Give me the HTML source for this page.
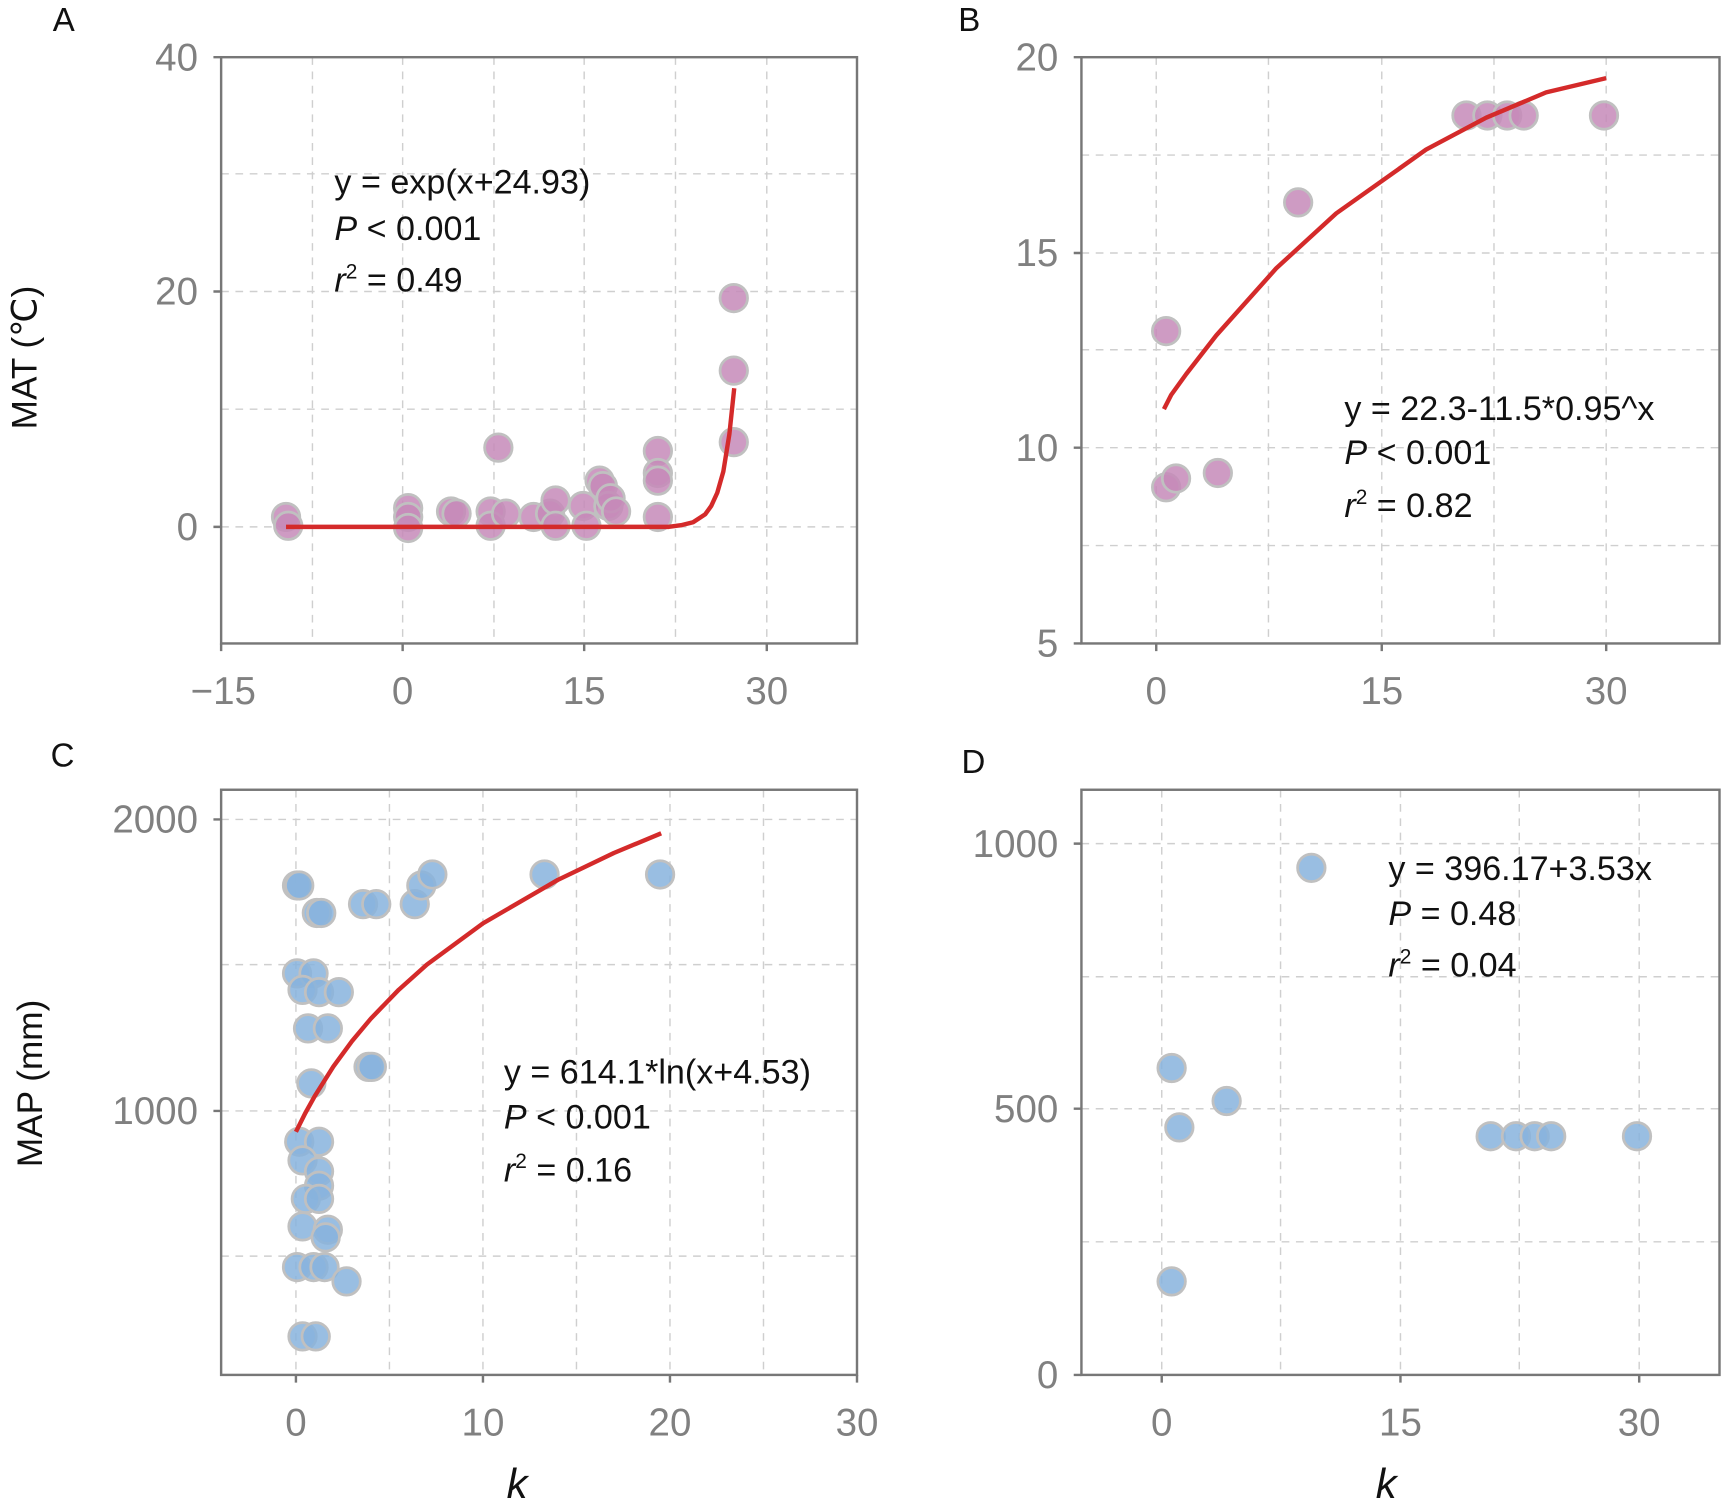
<!DOCTYPE html>
<html><head><meta charset="utf-8"><style>
html,body{margin:0;padding:0;background:#fff}
svg{display:block}
text{font-family:"Liberation Sans",Arial,sans-serif}
.t{fill:#808080;font-size:35px}
.a{fill:#111;font-size:31px}
.g{stroke:#cfcfcf;stroke-width:1.3;stroke-dasharray:7 6;fill:none}
.ax{stroke:#777;stroke-width:2.2;fill:none}
.pp circle{fill:#c58ab9;fill-opacity:.85;stroke:#c0c0c0;stroke-width:2.5}
.pb circle{fill:#87b3dd;fill-opacity:.85;stroke:#c0c0c0;stroke-width:2.5}
.fit{stroke:#d42a2a;stroke-width:4;fill:none;stroke-linejoin:round}
</style></head><body>
<svg width="1725" height="1508" viewBox="0 0 1568 1371" preserveAspectRatio="none">
<!-- Panel A -->
<text x="48" y="28" font-size="30" fill="#111">A</text>
<g class="g"><path d="M284 52V585M366 52V585M449 52V585M531 52V585M614 52V585M697 52V585M201 158H779M201 265H779M201 372H779M201 479H779"/></g>
<rect class="ax" x="201" y="52" width="578" height="533"/>
<path class="ax" d="M194 52H201M194 265H201M194 479H201M201 585V592M366 585V592M531 585V592M697 585V592"/>
<g class="t" text-anchor="end"><text x="180" y="64">40</text><text x="180" y="277">20</text><text x="180" y="491">0</text></g>
<g class="t" text-anchor="middle"><text x="203" y="640">−15</text><text x="366" y="640">0</text><text x="531" y="640">15</text><text x="697" y="640">30</text></g>
<text transform="translate(33,325) rotate(-90)" text-anchor="middle" font-size="32" fill="#111">MAT (℃)</text>
<g class="pp">
<circle cx="260" cy="470" r="12.5"/><circle cx="262" cy="478" r="12.5"/><circle cx="371" cy="462" r="12.5"/><circle cx="371" cy="470" r="12.5"/><circle cx="371" cy="480" r="12.5"/><circle cx="410" cy="465" r="12.5"/><circle cx="415" cy="467" r="12.5"/><circle cx="446" cy="465" r="12.5"/><circle cx="446" cy="478" r="12.5"/><circle cx="453" cy="407" r="12.5"/><circle cx="460" cy="467" r="12.5"/><circle cx="485" cy="470" r="12.5"/><circle cx="500" cy="467" r="12.5"/><circle cx="505" cy="455" r="12.5"/><circle cx="505" cy="478" r="12.5"/><circle cx="530" cy="460" r="12.5"/><circle cx="533" cy="478" r="12.5"/><circle cx="545" cy="437" r="12.5"/><circle cx="548" cy="442" r="12.5"/><circle cx="553" cy="460" r="12.5"/><circle cx="555" cy="453" r="12.5"/><circle cx="560" cy="465" r="12.5"/><circle cx="598" cy="410" r="12.5"/><circle cx="598" cy="430" r="12.5"/><circle cx="598" cy="437" r="12.5"/><circle cx="598" cy="470" r="12.5"/><circle cx="667" cy="271" r="12.5"/><circle cx="667" cy="337" r="12.5"/><circle cx="667" cy="402" r="12.5"/>
</g>
<path class="fit" d="M260 479L608 479L619 477.5L630 474.8L641 467.6L646.5 460L652 448L657.5 428.7L663 394.7L665 375.7L667.4 353"/>
<g class="a"><text x="304" y="176">y = exp(x+24.93)</text><text x="304" y="218"><tspan font-style="italic">P</tspan> &lt; 0.001</text><text x="304" y="265"><tspan font-style="italic">r</tspan><tspan font-size="19" dy="-12">2</tspan><tspan dy="12"> = 0.49</tspan></text></g>

<!-- Panel B -->
<text x="871" y="28" font-size="30" fill="#111">B</text>
<g class="g"><path d="M1051 52V585M1153 52V585M1256 52V585M1358 52V585M1460 52V585M983 141H1563M983 230H1563M983 318H1563M983 407H1563M983 496H1563"/></g>
<rect class="ax" x="983" y="52" width="580" height="533"/>
<path class="ax" d="M976 52H983M976 230H983M976 407H983M976 585H983M1051 585V592M1256 585V592M1460 585V592"/>
<g class="t" text-anchor="end"><text x="962" y="64">20</text><text x="962" y="242">15</text><text x="962" y="419">10</text><text x="962" y="597">5</text></g>
<g class="t" text-anchor="middle"><text x="1051" y="640">0</text><text x="1256" y="640">15</text><text x="1460" y="640">30</text></g>
<g class="pp">
<circle cx="1060" cy="301" r="12.5"/><circle cx="1060" cy="443" r="12.5"/><circle cx="1069" cy="435" r="12.5"/><circle cx="1107" cy="430" r="12.5"/><circle cx="1180" cy="184" r="12.5"/><circle cx="1333" cy="105" r="12.5"/><circle cx="1352" cy="105" r="12.5"/><circle cx="1370" cy="105" r="12.5"/><circle cx="1385" cy="105" r="12.5"/><circle cx="1458" cy="105" r="12.5"/>
</g>
<path class="fit" d="M1058 372L1064.6 359L1078.3 340L1105.5 305L1160 244L1214.6 194L1296.3 136L1350.9 107L1405.4 84L1460 71"/>
<g class="a"><text x="1222" y="382">y = 22.3-11.5*0.95^x</text><text x="1222" y="422"><tspan font-style="italic">P</tspan> &lt; 0.001</text><text x="1222" y="470"><tspan font-style="italic">r</tspan><tspan font-size="19" dy="-12">2</tspan><tspan dy="12"> = 0.82</tspan></text></g>

<!-- Panel C -->
<text x="46" y="697" font-size="30" fill="#111">C</text>
<g class="g"><path d="M269 718V1250M354 718V1250M439 718V1250M524 718V1250M609 718V1250M694 718V1250M201 745H779M201 877H779M201 1010H779M201 1142H779"/></g>
<rect class="ax" x="201" y="718" width="578" height="532"/>
<path class="ax" d="M194 745H201M194 1010H201M269 1250V1257M439 1250V1257M609 1250V1257M779 1250V1257"/>
<g class="t" text-anchor="end"><text x="180" y="757">2000</text><text x="180" y="1022">1000</text></g>
<g class="t" text-anchor="middle"><text x="269" y="1305">0</text><text x="439" y="1305">10</text><text x="609" y="1305">20</text><text x="779" y="1305">30</text></g>
<text transform="translate(38,985) rotate(-90)" text-anchor="middle" font-size="32" fill="#111">MAP (mm)</text>
<text x="470" y="1362" text-anchor="middle" font-size="38" font-style="italic" fill="#111">k</text>
<g class="pb">
<circle cx="270" cy="805" r="12.5"/><circle cx="272" cy="805" r="12.5"/><circle cx="288" cy="830" r="12.5"/><circle cx="292" cy="830" r="12.5"/><circle cx="270" cy="885" r="12.5"/><circle cx="285" cy="885" r="12.5"/><circle cx="275" cy="900" r="12.5"/><circle cx="290" cy="902" r="12.5"/><circle cx="308" cy="902" r="12.5"/><circle cx="280" cy="935" r="12.5"/><circle cx="298" cy="935" r="12.5"/><circle cx="283" cy="985" r="12.5"/><circle cx="335" cy="970" r="12.5"/><circle cx="338" cy="970" r="12.5"/><circle cx="272" cy="1038" r="12.5"/><circle cx="290" cy="1038" r="12.5"/><circle cx="275" cy="1055" r="12.5"/><circle cx="290" cy="1065" r="12.5"/><circle cx="290" cy="1078" r="12.5"/><circle cx="278" cy="1090" r="12.5"/><circle cx="290" cy="1090" r="12.5"/><circle cx="275" cy="1115" r="12.5"/><circle cx="298" cy="1118" r="12.5"/><circle cx="296" cy="1125" r="12.5"/><circle cx="270" cy="1152" r="12.5"/><circle cx="285" cy="1152" r="12.5"/><circle cx="295" cy="1152" r="12.5"/><circle cx="315" cy="1165" r="12.5"/><circle cx="275" cy="1215" r="12.5"/><circle cx="287" cy="1215" r="12.5"/><circle cx="330" cy="822" r="12.5"/><circle cx="342" cy="822" r="12.5"/><circle cx="377" cy="822" r="12.5"/><circle cx="383" cy="805" r="12.5"/><circle cx="393" cy="795" r="12.5"/><circle cx="495" cy="795" r="12.5"/><circle cx="600" cy="795" r="12.5"/>
</g>
<path class="fit" d="M269 1029L277.5 1012L286 996.7L303 969.7L320 946.5L337 926.2L362.5 899.8L388 877L439 839.5L507 800L558 775.5L601 757.6"/>
<g class="a"><text x="458" y="985">y = 614.1*ln(x+4.53)</text><text x="458" y="1026"><tspan font-style="italic">P</tspan> &lt; 0.001</text><text x="458" y="1074"><tspan font-style="italic">r</tspan><tspan font-size="19" dy="-12">2</tspan><tspan dy="12"> = 0.16</tspan></text></g>

<!-- Panel D -->
<text x="874" y="703" font-size="30" fill="#111">D</text>
<g class="g"><path d="M1056 718V1250M1164 718V1250M1273 718V1250M1381 718V1250M1490 718V1250M983 767H1563M983 888H1563M983 1008H1563M983 1129H1563"/></g>
<rect class="ax" x="983" y="718" width="580" height="532"/>
<path class="ax" d="M976 767H983M976 1008H983M976 1250H983M1056 1250V1257M1273 1250V1257M1490 1250V1257"/>
<g class="t" text-anchor="end"><text x="962" y="779">1000</text><text x="962" y="1020">500</text><text x="962" y="1262">0</text></g>
<g class="t" text-anchor="middle"><text x="1056" y="1305">0</text><text x="1273" y="1305">15</text><text x="1490" y="1305">30</text></g>
<text x="1260" y="1362" text-anchor="middle" font-size="38" font-style="italic" fill="#111">k</text>
<g class="pb">
<circle cx="1192" cy="789" r="12.5"/><circle cx="1065" cy="971" r="12.5"/><circle cx="1072" cy="1025" r="12.5"/><circle cx="1115" cy="1001" r="12.5"/><circle cx="1065" cy="1165" r="12.5"/><circle cx="1355" cy="1033" r="12.5"/><circle cx="1378" cy="1033" r="12.5"/><circle cx="1395" cy="1033" r="12.5"/><circle cx="1410" cy="1033" r="12.5"/><circle cx="1488" cy="1033" r="12.5"/>
</g>
<g class="a"><text x="1262" y="800">y = 396.17+3.53x</text><text x="1262" y="841"><tspan font-style="italic">P</tspan> = 0.48</text><text x="1262" y="888"><tspan font-style="italic">r</tspan><tspan font-size="19" dy="-12">2</tspan><tspan dy="12"> = 0.04</tspan></text></g>
</svg>
</body></html>
